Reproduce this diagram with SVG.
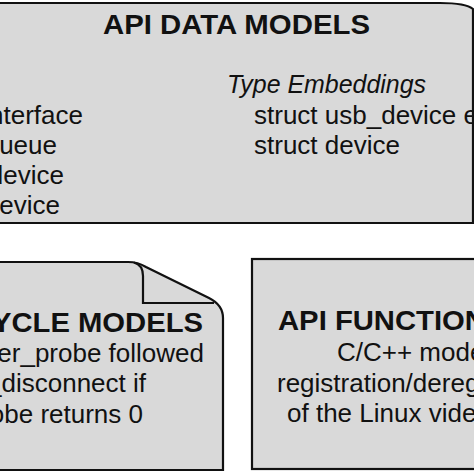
<svg xmlns="http://www.w3.org/2000/svg" width="474" height="474" viewBox="0 0 474 474">
<style>
.box{fill:#d9d9d9;stroke:#111;stroke-width:2.2}
.fold{fill:none;stroke:#111;stroke-width:2.2}
text{font-family:"Liberation Sans",Arial,Helvetica,sans-serif;fill:#111}
.t{font-size:28.5px;font-weight:bold}
.b{font-size:26px}
.i{font-size:25px;font-style:italic}
</style>
<rect width="474" height="474" fill="#fff"/>
<g id="api-data-models">
<path class="box" d="M -10 3 L 440 3 Q 466 3 473 9 L 473 223 L -10 223 Z"/>
<text class="t" x="103" y="33.5" textLength="267" lengthAdjust="spacingAndGlyphs">API DATA MODELS</text>
<text class="b" x="83" y="124" text-anchor="end">nterface</text>
<text class="b" x="57" y="154" text-anchor="end">ueue</text>
<text class="b" x="64" y="184" text-anchor="end">device</text>
<text class="b" x="60" y="214" text-anchor="end">evice</text>
<text class="i" x="227" y="93" textLength="199" lengthAdjust="spacingAndGlyphs">Type Embeddings</text>
<text class="b" x="254" y="124">struct usb_device e</text>
<text class="b" x="254" y="154">struct device</text>
</g>
<g id="lifecycle-models">
<path class="box" d="M -10 262 L 128 262 Q 138 262 146 267 L 209 298 Q 223 305 223 318 L 223 470 L -10 470 Z"/>
<path class="fold" d="M 134 262.5 Q 143 265 143 276 L 143 303 L 214 303"/>
<text class="t" x="-8" y="332" textLength="211" lengthAdjust="spacingAndGlyphs">YCLE MODELS</text>
<text class="b" x="204" y="362" text-anchor="end">rer_probe followed</text>
<text class="b" x="146" y="392" text-anchor="end">_disconnect if</text>
<text class="b" x="143" y="423" text-anchor="end">obe returns 0</text>
</g>
<g id="api-functions">
<rect class="box" x="252" y="259" width="240" height="210"/>
<text class="t" x="278" y="330" textLength="208" lengthAdjust="spacingAndGlyphs">API FUNCTION</text>
<text class="b" x="337" y="361">C/C++ mode</text>
<text class="b" x="277" y="392">registration/dereg</text>
<text class="b" x="287" y="422">of the Linux vide</text>
</g>
<g id="connectors"></g>
</svg>
